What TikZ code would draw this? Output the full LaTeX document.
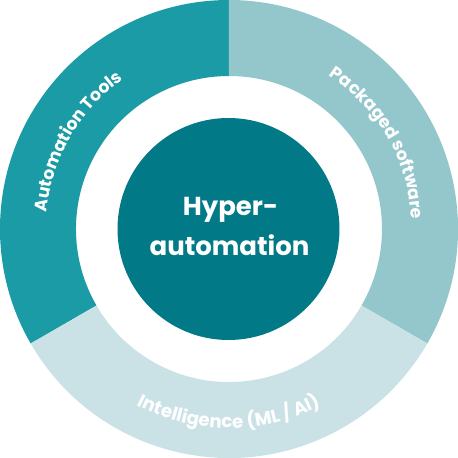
\documentclass[tikz,border=0pt]{standalone}
\usepackage{fontspec}
\setmainfont{Poppins}
\usetikzlibrary{decorations.text}
\definecolor{autoc}{HTML}{1B9BA5}
\definecolor{packc}{HTML}{94C7CB}
\definecolor{intc}{HTML}{CAE2E6}
\definecolor{corec}{HTML}{027987}
\tikzset{
  seglabel/.style={decorate, decoration={text along path, text align=center,
    text color=white, text={#1}}},
}
\begin{document}
\begin{tikzpicture}[x=1pt,y=1pt]
\useasboundingbox (-229,-229) rectangle (229,229);
% ring segments
\fill[autoc] (90:153) -- (90:229) arc[start angle=90,end angle=210,radius=229]
  -- (210:153) arc[start angle=210,end angle=90,radius=153] -- cycle;
\fill[packc] (-30:153) -- (-30:229) arc[start angle=-30,end angle=90,radius=229]
  -- (90:153) arc[start angle=90,end angle=-30,radius=153] -- cycle;
\fill[intc] (210:153) -- (210:229) arc[start angle=210,end angle=330,radius=229]
  -- (330:153) arc[start angle=330,end angle=210,radius=153] -- cycle;
% core
\fill[corec] (-0.5,0) circle[radius=111];
\node[font=\bfseries\fontsize{26}{30}\selectfont, text=white, anchor=base] (hyper1) at (1.5,13) {Hyper-};
\node[font=\bfseries\fontsize{26}{30}\selectfont, text=white, anchor=base] (hyper2) at (0.5,-26) {automation};
% curved labels
\path[seglabel={|\bfseries\fontsize{17.3}{17.3}\selectfont|Automation Tools}]
  (210:183) arc[start angle=210,end angle=90,radius=183];
\path[seglabel={|\bfseries\fontsize{17.3}{17.3}\selectfont|Packaged software}]
  (90:183) arc[start angle=90,end angle=-30,radius=183];
\path[seglabel={|\bfseries\fontsize{18.2}{18.2}\selectfont|Intelligence (ML / AI)}]
  (210:199) arc[start angle=210,end angle=330,radius=199];
\end{tikzpicture}
\end{document}
